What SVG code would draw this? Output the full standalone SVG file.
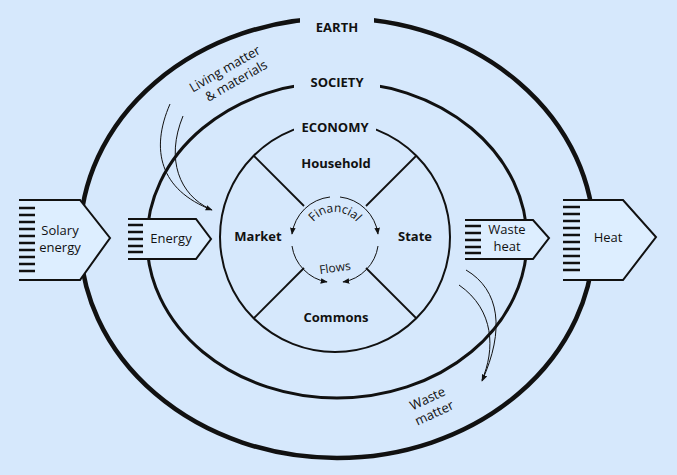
<svg xmlns="http://www.w3.org/2000/svg" width="677" height="475" viewBox="0 0 677 475">
<defs>
<style>
text{font-family:"Open Sans","Liberation Sans",sans-serif;fill:#111;text-anchor:middle}
.b{font-weight:bold;font-size:13px}
.n{font-size:13px}
.thin{fill:none;stroke:#111;stroke-width:1}
.arr{fill:#ddeeff;stroke:#111;stroke-width:2}
.d{stroke:#111;stroke-width:2.5}
</style>
<marker id="ah" viewBox="0 0 10 10" refX="9" refY="5" markerWidth="7" markerHeight="7" orient="auto"><path d="M0,1 L10,5 L0,9 Z" fill="#111"/></marker>
</defs>
<rect width="677" height="475" fill="#d6e8fc"/>
<g id="earth"><ellipse cx="337" cy="238" rx="257" ry="220" fill="none" stroke="#111" stroke-width="4.5"/>
<rect x="300" y="14" width="74" height="22" fill="#d6e8fc"/><text class="b" x="337" y="32">EARTH</text></g>
<g id="society"><ellipse cx="337" cy="240" rx="190" ry="158" fill="none" stroke="#111" stroke-width="3"/>
<rect x="294" y="73" width="86" height="18" fill="#d6e8fc"/><text class="b" x="337" y="87">SOCIETY</text></g>
<g id="economy"><circle cx="335" cy="237" r="115" fill="none" stroke="#111" stroke-width="2"/>
<rect x="294" y="118" width="82" height="16" fill="#d6e8fc"/><text class="b" x="335" y="132">ECONOMY</text>
<g stroke="#111" stroke-width="1.8"><line x1="254" y1="156" x2="304" y2="206"/><line x1="416" y1="156" x2="366" y2="206"/><line x1="254" y1="318" x2="304" y2="268"/><line x1="416" y1="318" x2="366" y2="268"/></g></g>
<g id="household"><text class="b" x="336" y="168">Household</text></g>
<g id="market"><text class="b" x="258" y="241">Market</text></g>
<g id="state"><text class="b" x="415" y="241">State</text></g>
<g id="commons"><text class="b" x="336" y="322">Commons</text></g>
<g id="financial">
<path id="fa" d="M307,240 A28,28 0 0 1 363,240" fill="none"/>
<text font-size="12"><textPath href="#fa" startOffset="50%">Financial</textPath></text>
<text x="335" y="272" font-size="12" transform="rotate(-8 335 268)">Flows</text>
<g class="thin" marker-end="url(#ah)">
<path d="M330,197 A43,43 0 0 0 292,234"/>
<path d="M340,197 A43,43 0 0 1 378,234"/>
<path d="M292,246 A43,43 0 0 0 327,282"/>
<path d="M378,246 A43,43 0 0 1 343,282"/>
</g></g>
<g id="solar">
<path class="arr" d="M19,200 H80 L110,238 L80,280 H19"/>
<g class="d"><line x1="19" y1="208" x2="35" y2="208"/><line x1="19" y1="215" x2="35" y2="215"/><line x1="19" y1="222" x2="35" y2="222"/><line x1="19" y1="229" x2="35" y2="229"/><line x1="19" y1="236" x2="35" y2="236"/><line x1="19" y1="243" x2="35" y2="243"/><line x1="19" y1="250" x2="35" y2="250"/><line x1="19" y1="257" x2="35" y2="257"/><line x1="19" y1="264" x2="35" y2="264"/><line x1="19" y1="271" x2="35" y2="271"/></g>
<text class="n" x="60" y="235">Solary</text><text class="n" x="60" y="252">energy</text></g>
<g id="energy">
<path class="arr" d="M128,219 H196 L211,239 L196,259 H128"/>
<g class="d"><line x1="128" y1="225" x2="143" y2="225"/><line x1="128" y1="232" x2="143" y2="232"/><line x1="128" y1="239" x2="143" y2="239"/><line x1="128" y1="246" x2="143" y2="246"/><line x1="128" y1="252" x2="143" y2="252"/></g>
<text class="n" x="171" y="243">Energy</text></g>
<g id="wasteheat">
<path class="arr" d="M465,220 H533 L549,238 L533,259 H465"/>
<g class="d"><line x1="465" y1="226" x2="481" y2="226"/><line x1="465" y1="233" x2="481" y2="233"/><line x1="465" y1="240" x2="481" y2="240"/><line x1="465" y1="247" x2="481" y2="247"/><line x1="465" y1="253" x2="481" y2="253"/></g>
<text class="n" x="507" y="234">Waste</text><text class="n" x="507" y="251">heat</text></g>
<g id="heat">
<path class="arr" d="M563,200 H623 L656,237 L623,280 H563"/>
<g class="d"><line x1="563" y1="207" x2="580" y2="207"/><line x1="563" y1="214" x2="580" y2="214"/><line x1="563" y1="221" x2="580" y2="221"/><line x1="563" y1="228" x2="580" y2="228"/><line x1="563" y1="235" x2="580" y2="235"/><line x1="563" y1="242" x2="580" y2="242"/><line x1="563" y1="249" x2="580" y2="249"/><line x1="563" y1="256" x2="580" y2="256"/><line x1="563" y1="263" x2="580" y2="263"/><line x1="563" y1="270" x2="580" y2="270"/></g>
<text class="n" x="608" y="242">Heat</text></g>
<g id="living"><text class="n" transform="translate(230,78) rotate(-30)"><tspan x="0" y="-6">Living matter</tspan><tspan x="4" y="10">&amp; materials</tspan></text></g>
<g id="wastematter"><text class="n" transform="translate(432,408) rotate(-25)"><tspan x="0" y="-6">Waste</tspan><tspan x="0" y="10">matter</tspan></text></g>
<g id="connectors" class="thin">
<path d="M170,104 C150,150 160,190 212,210" marker-end="url(#ah)"/>
<path d="M183,116 C165,160 180,195 210,209"/>
<path d="M466,270 C500,290 505,330 482,381" marker-end="url(#ah)"/>
<path d="M459,285 C495,310 495,350 482,380"/>
</g>
</svg>
